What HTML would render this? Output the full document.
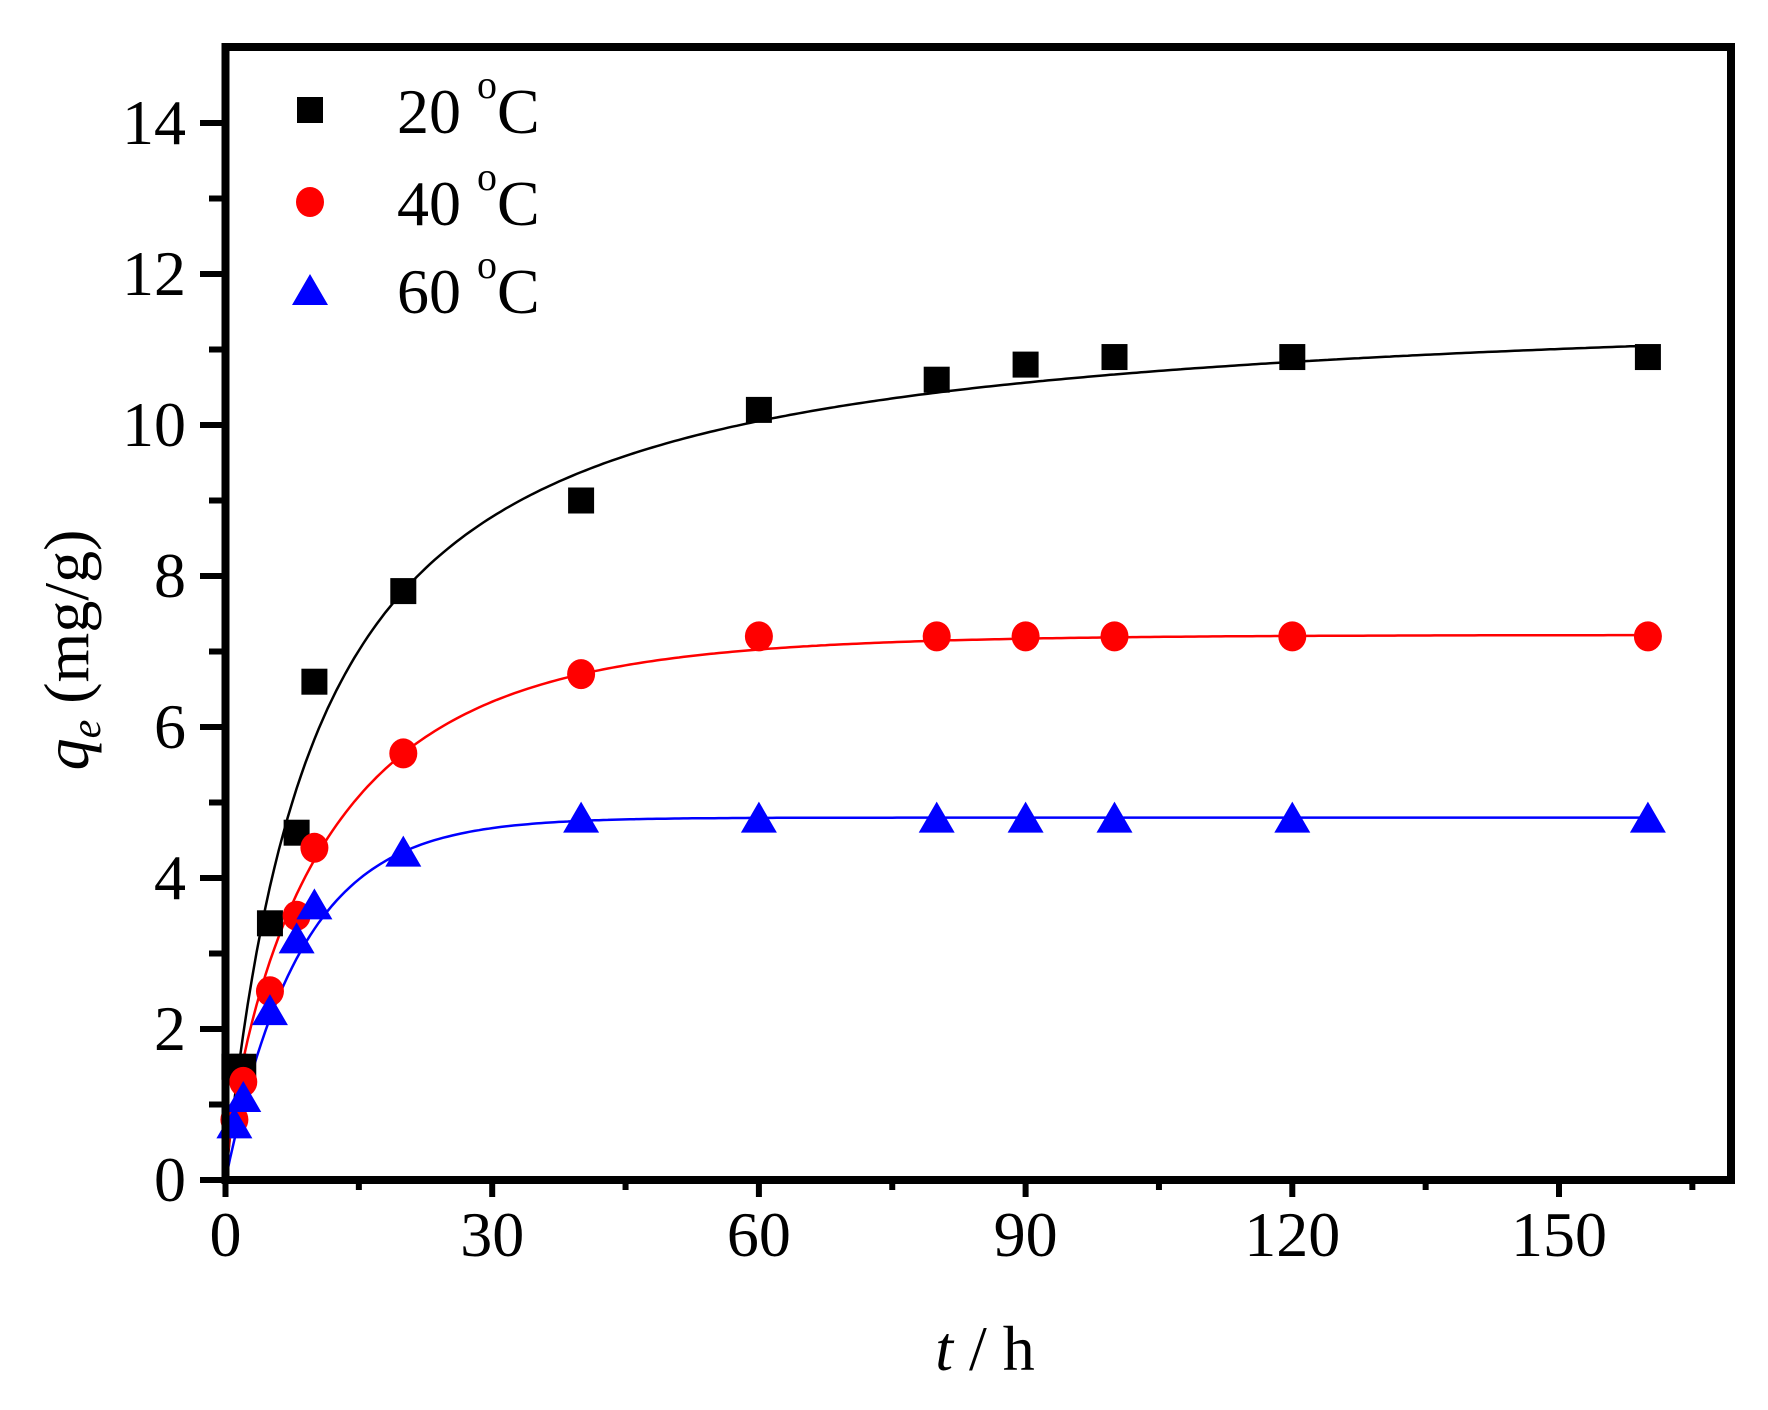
<!DOCTYPE html>
<html><head><meta charset="utf-8"><style>html,body{margin:0;padding:0;background:#fff}svg{display:block}text{font-family:"Liberation Serif","Times New Roman",serif}</style></head>
<body>
<svg id="s" width="1768" height="1410" viewBox="0 0 1768 1410" xmlns="http://www.w3.org/2000/svg">
<rect width="1768" height="1410" fill="#fff"/>
<g id="g"></g>
</svg>
<script>
const X0=225.5,XS=8.89,Y0=1180,YS=75.5;
const X=t=>X0+t*XS, Y=q=>Y0-q*YS;
let h='';
function curve(f,col){let d='';for(let t=0;t<=160;t+=0.5){d+=(t?'L':'M')+X(t).toFixed(1)+' '+Y(f(t)).toFixed(1);}h+=`<path d="${d}" fill="none" stroke="${col}" stroke-width="2.5"/>`;}
curve(t=>11.75*t/(10.13+t),'#000');
curve(t=>7.22*(1-Math.exp(-Math.pow(0.0856*t,0.786))),'#f00');
curve(t=>4.8*(1-Math.exp(-0.118*t)),'#00f');
const sq=(x,y)=>`<rect x="${x-13}" y="${y-13}" width="26" height="26" fill="#000"/>`;
const ci=(x,y)=>`<ellipse cx="${x}" cy="${y}" rx="14" ry="15" fill="#f00"/>`;
const tr=(x,y)=>`<polygon points="${x-18},${y+15} ${x+18},${y+15} ${x},${y-16}" fill="#00f"/>`;
const d1=[[1,1.5],[2,1.5],[5,3.4],[8,4.6],[10,6.6],[20,7.8],[40,9.0],[60,10.2],[80,10.6],[90,10.8],[100,10.9],[120,10.9],[160,10.9]];
const d2=[[1,0.8],[2,1.3],[5,2.5],[8,3.5],[10,4.4],[20,5.65],[40,6.7],[60,7.2],[80,7.2],[90,7.2],[100,7.2],[120,7.2],[160,7.2]];
const d3=[[1,0.75],[2,1.1],[5,2.25],[8,3.2],[10,3.65],[20,4.35],[40,4.8],[60,4.8],[80,4.8],[90,4.8],[100,4.8],[120,4.8],[160,4.8]];
d1.forEach(p=>h+=sq(X(p[0]),Y(p[1])));
d2.forEach(p=>h+=ci(X(p[0]),Y(p[1])));
d3.forEach(p=>h+=tr(X(p[0]),Y(p[1])));
h+=`<rect x="225.5" y="47" width="1505.5" height="1133" fill="none" stroke="#000" stroke-width="8"/>`;
for(let t=0;t<=165;t+=15){const maj=t%30==0;h+=`<line x1="${X(t)}" y1="1180" x2="${X(t)}" y2="${maj?1197:1190}" stroke="#000" stroke-width="6"/>`;
 if(maj)h+=`<text x="${X(t)}" y="1256" font-size="64" text-anchor="middle">${t}</text>`;}
for(let q=0;q<=14;q++){const maj=q%2==0;h+=`<line x1="225.5" y1="${Y(q)}" x2="${maj?200:209}" y2="${Y(q)}" stroke="#000" stroke-width="6"/>`;
 if(maj)h+=`<text x="186" y="${Y(q)+21}" font-size="64" text-anchor="end">${q}</text>`;}
const leg=[[110,'20',sq(310,110)],[202,'40',ci(310,202)],[290,'60',tr(310,290)]];
leg.forEach(l=>{h+=l[2];h+=`<g transform="translate(397,0)"><text x="0" y="${l[0]+23}" font-size="64">${l[1]}</text><text x="80" y="${l[0]-12}" font-size="40">o</text><text x="100" y="${l[0]+23}" font-size="64">C</text></g>`;});
h+=`<g transform="translate(985,1370)"><text x="0" y="0" font-size="64" text-anchor="middle"><tspan font-style="italic">t</tspan> / h</text></g>`;
h+=`<g transform="translate(88,650) rotate(-90)"><text x="0" y="0" font-size="64" text-anchor="middle"><tspan font-style="italic">q</tspan><tspan font-style="italic" font-size="42" dy="12">e</tspan><tspan dy="-12"> (mg/g)</tspan></text></g>`;
document.getElementById('g').innerHTML=h;
</script>
</body></html>
